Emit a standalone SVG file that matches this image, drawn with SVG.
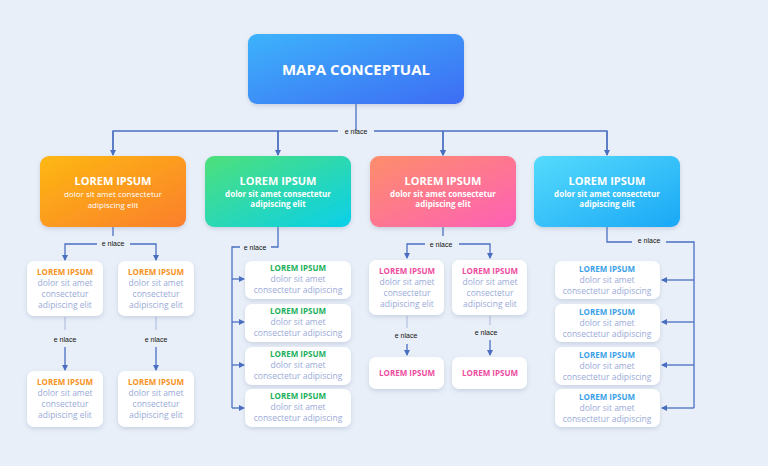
<svg xmlns="http://www.w3.org/2000/svg" width="768" height="466" viewBox="0 0 768 466">
<defs>
<linearGradient id="gT" x1="0" y1="0" x2="1" y2="1"><stop offset="0" stop-color="#3cb3fb"/><stop offset="1" stop-color="#3d6cf4"/></linearGradient>
<linearGradient id="gO" x1="0" y1="0" x2="1" y2="1"><stop offset="0" stop-color="#fdb812"/><stop offset="1" stop-color="#fb7f2c"/></linearGradient>
<linearGradient id="gG" x1="0" y1="0" x2="1" y2="1"><stop offset="0" stop-color="#4ee07a"/><stop offset="1" stop-color="#0ad0ea"/></linearGradient>
<linearGradient id="gP" x1="0" y1="0" x2="1" y2="1"><stop offset="0" stop-color="#fd8e6a"/><stop offset="1" stop-color="#fe60b6"/></linearGradient>
<linearGradient id="gB" x1="0" y1="0" x2="1" y2="1"><stop offset="0" stop-color="#55dbfc"/><stop offset="1" stop-color="#1aa8f6"/></linearGradient>
<filter id="sh" x="-20%" y="-20%" width="140%" height="150%"><feDropShadow dx="0" dy="2" stdDeviation="2" flood-color="#7f8fb0" flood-opacity="0.3"/></filter>
<marker id="ar" markerWidth="6" markerHeight="6" refX="5" refY="3" orient="auto" markerUnits="userSpaceOnUse"><path d="M0,0 L6,3 L0,6 z" fill="#4a6fc0"/></marker>
</defs>
<style>
text{font-family:"Open Sans","Liberation Sans",sans-serif;text-anchor:middle}
.c{fill:none;stroke:#4a6fc0;stroke-width:1.3}
.cl{fill:none;stroke:#a9b8dc;stroke-width:1}
.big{filter:url(#sh)}
.w{fill:#fff;filter:url(#sh)}
.ht{font-size:11px;font-weight:bold;fill:#fff}
.hs{font-size:8px;fill:#fff}
.t{font-size:8px;font-weight:bold}
.b{font-size:8.5px;fill:#9aaad8}
.lb{font-size:7px;fill:#111;font-family:"Liberation Sans",sans-serif}
.o{fill:#f7931e}.g{fill:#1cb05c}.p{fill:#ee4c9e}.bl{fill:#3b9fe8}
</style>
<rect width="768" height="466" fill="#e9eff8"/>
<g id="connectors">
<path class="c" d="M356,104 V131 M338,131 H113 V155 M278,131 V155 M374,131 H607 V155 M443,131 V155" marker-end="url(#ar)"/>
<path class="c" d="M113,131 V155" marker-end="url(#ar)"/><path class="c" d="M278,131 V155" marker-end="url(#ar)"/><path class="c" d="M443,131 V155" marker-end="url(#ar)"/><path class="c" d="M607,131 V155" marker-end="url(#ar)"/>
<path class="c" d="M113,227 V236"/>
<path class="c" d="M97,244 H65 V260" marker-end="url(#ar)"/><path class="c" d="M130,244 H156 V260" marker-end="url(#ar)"/>
<path class="cl" d="M65,317 V330 M156,317 V330"/>
<path class="c" d="M65,347 V370" marker-end="url(#ar)"/><path class="c" d="M156,347 V370" marker-end="url(#ar)"/>
<path class="c" d="M278,227 V247 H271 M240,247 H232 V408"/>
<path class="c" d="M232,279 H244" marker-end="url(#ar)"/><path class="c" d="M232,322 H244" marker-end="url(#ar)"/><path class="c" d="M232,365 H244" marker-end="url(#ar)"/><path class="c" d="M232,408 H244" marker-end="url(#ar)"/>
<path class="c" d="M443,227 V236"/>
<path class="c" d="M425,244 H407 V258" marker-end="url(#ar)"/><path class="c" d="M459,244 H490 V258" marker-end="url(#ar)"/>
<path class="cl" d="M407,316 V328 M490,316 V325"/>
<path class="c" d="M407,344 V355" marker-end="url(#ar)"/><path class="c" d="M490,340 V355" marker-end="url(#ar)"/>
<path class="c" d="M607,227 V242 H632 M666,242 H694 V408"/>
<path class="c" d="M694,280 H662" marker-end="url(#ar)"/><path class="c" d="M694,322 H662" marker-end="url(#ar)"/><path class="c" d="M694,365 H662" marker-end="url(#ar)"/><path class="c" d="M694,408 H662" marker-end="url(#ar)"/>
<text class="lb" x="356" y="134">e nlace</text>
<text class="lb" x="113" y="246">e nlace</text>
<text class="lb" x="65" y="342">e nlace</text>
<text class="lb" x="156" y="342">e nlace</text>
<text class="lb" x="255" y="250">e nlace</text>
<text class="lb" x="441" y="247">e nlace</text>
<text class="lb" x="406" y="338">e nlace</text>
<text class="lb" x="486" y="335">e nlace</text>
<text class="lb" x="649" y="243">e nlace</text>
</g>
<g id="title"><rect class="big" x="248" y="34" width="216" height="70" rx="9" fill="url(#gT)"/><text x="356" y="75" font-size="15" font-weight="bold" fill="#fff">MAPA CONCEPTUAL</text></g>
<g id="n1"><rect class="big" x="40" y="156" width="146" height="71" rx="9" fill="url(#gO)"/><text class="ht" x="113" y="185">LOREM IPSUM</text><text class="hs" x="113" y="197">dolor sit amet consectetur</text><text class="hs" x="113" y="208">adipiscing elit</text></g>
<g id="n2"><rect class="big" x="205" y="156" width="146" height="71" rx="9" fill="url(#gG)"/><text class="ht" x="278" y="185">LOREM IPSUM</text><text class="hs" x="278" y="197" font-weight="bold">dolor sit amet consectetur</text><text class="hs" x="278" y="207" font-weight="bold">adipiscing elit</text></g>
<g id="n3"><rect class="big" x="370" y="156" width="146" height="71" rx="9" fill="url(#gP)"/><text class="ht" x="443" y="185">LOREM IPSUM</text><text class="hs" x="443" y="197" font-weight="bold">dolor sit amet consectetur</text><text class="hs" x="443" y="207" font-weight="bold">adipiscing elit</text></g>
<g id="n4"><rect class="big" x="534" y="156" width="146" height="71" rx="9" fill="url(#gB)"/><text class="ht" x="607" y="185">LOREM IPSUM</text><text class="hs" x="607" y="197" font-weight="bold">dolor sit amet consectetur</text><text class="hs" x="607" y="207" font-weight="bold">adipiscing elit</text></g>
<g id="o1"><rect class="w" x="27" y="261" width="76" height="55" rx="7"/><text class="t o" x="65" y="275">LOREM IPSUM</text><text class="b" x="65" y="286">dolor sit amet</text><text class="b" x="65" y="297">consectetur</text><text class="b" x="65" y="308">adipiscing elit</text></g>
<g id="o2"><rect class="w" x="118" y="261" width="76" height="55" rx="7"/><text class="t o" x="156" y="275">LOREM IPSUM</text><text class="b" x="156" y="286">dolor sit amet</text><text class="b" x="156" y="297">consectetur</text><text class="b" x="156" y="308">adipiscing elit</text></g>
<g id="o3"><rect class="w" x="27" y="371" width="76" height="56" rx="7"/><text class="t o" x="65" y="385">LOREM IPSUM</text><text class="b" x="65" y="396">dolor sit amet</text><text class="b" x="65" y="407">consectetur</text><text class="b" x="65" y="418">adipiscing elit</text></g>
<g id="o4"><rect class="w" x="118" y="371" width="76" height="56" rx="7"/><text class="t o" x="156" y="385">LOREM IPSUM</text><text class="b" x="156" y="396">dolor sit amet</text><text class="b" x="156" y="407">consectetur</text><text class="b" x="156" y="418">adipiscing elit</text></g>
<g id="g1"><rect class="w" x="245" y="261" width="106" height="38" rx="7"/><text class="t g" x="298" y="271">LOREM IPSUM</text><text class="b" x="298" y="282">dolor sit amet</text><text class="b" x="298" y="293">consectetur adipiscing</text></g>
<g id="g2"><rect class="w" x="245" y="304" width="106" height="38" rx="7"/><text class="t g" x="298" y="314">LOREM IPSUM</text><text class="b" x="298" y="325">dolor sit amet</text><text class="b" x="298" y="336">consectetur adipiscing</text></g>
<g id="g3"><rect class="w" x="245" y="347" width="106" height="38" rx="7"/><text class="t g" x="298" y="357">LOREM IPSUM</text><text class="b" x="298" y="368">dolor sit amet</text><text class="b" x="298" y="379">consectetur adipiscing</text></g>
<g id="g4"><rect class="w" x="245" y="389" width="106" height="38" rx="7"/><text class="t g" x="298" y="399">LOREM IPSUM</text><text class="b" x="298" y="410">dolor sit amet</text><text class="b" x="298" y="421">consectetur adipiscing</text></g>
<g id="p1"><rect class="w" x="369" y="260" width="75" height="55" rx="7"/><text class="t p" x="407" y="274">LOREM IPSUM</text><text class="b" x="407" y="285">dolor sit amet</text><text class="b" x="407" y="296">consectetur</text><text class="b" x="407" y="307">adipiscing elit</text></g>
<g id="p2"><rect class="w" x="452" y="260" width="75" height="55" rx="7"/><text class="t p" x="490" y="274">LOREM IPSUM</text><text class="b" x="490" y="285">dolor sit amet</text><text class="b" x="490" y="296">consectetur</text><text class="b" x="490" y="307">adipiscing elit</text></g>
<g id="p3"><rect class="w" x="369" y="357" width="75" height="32" rx="7"/><text class="t p" x="407" y="376">LOREM IPSUM</text></g>
<g id="p4"><rect class="w" x="452" y="357" width="75" height="32" rx="7"/><text class="t p" x="490" y="376">LOREM IPSUM</text></g>
<g id="b1"><rect class="w" x="555" y="261" width="105" height="38" rx="7"/><text class="t bl" x="607" y="272">LOREM IPSUM</text><text class="b" x="607" y="283">dolor sit amet</text><text class="b" x="607" y="294">consectetur adipiscing</text></g>
<g id="b2"><rect class="w" x="555" y="304" width="105" height="38" rx="7"/><text class="t bl" x="607" y="315">LOREM IPSUM</text><text class="b" x="607" y="326">dolor sit amet</text><text class="b" x="607" y="337">consectetur adipiscing</text></g>
<g id="b3"><rect class="w" x="555" y="347" width="105" height="38" rx="7"/><text class="t bl" x="607" y="358">LOREM IPSUM</text><text class="b" x="607" y="369">dolor sit amet</text><text class="b" x="607" y="380">consectetur adipiscing</text></g>
<g id="b4"><rect class="w" x="555" y="389" width="105" height="38" rx="7"/><text class="t bl" x="607" y="400">LOREM IPSUM</text><text class="b" x="607" y="411">dolor sit amet</text><text class="b" x="607" y="422">consectetur adipiscing</text></g>
</svg>
